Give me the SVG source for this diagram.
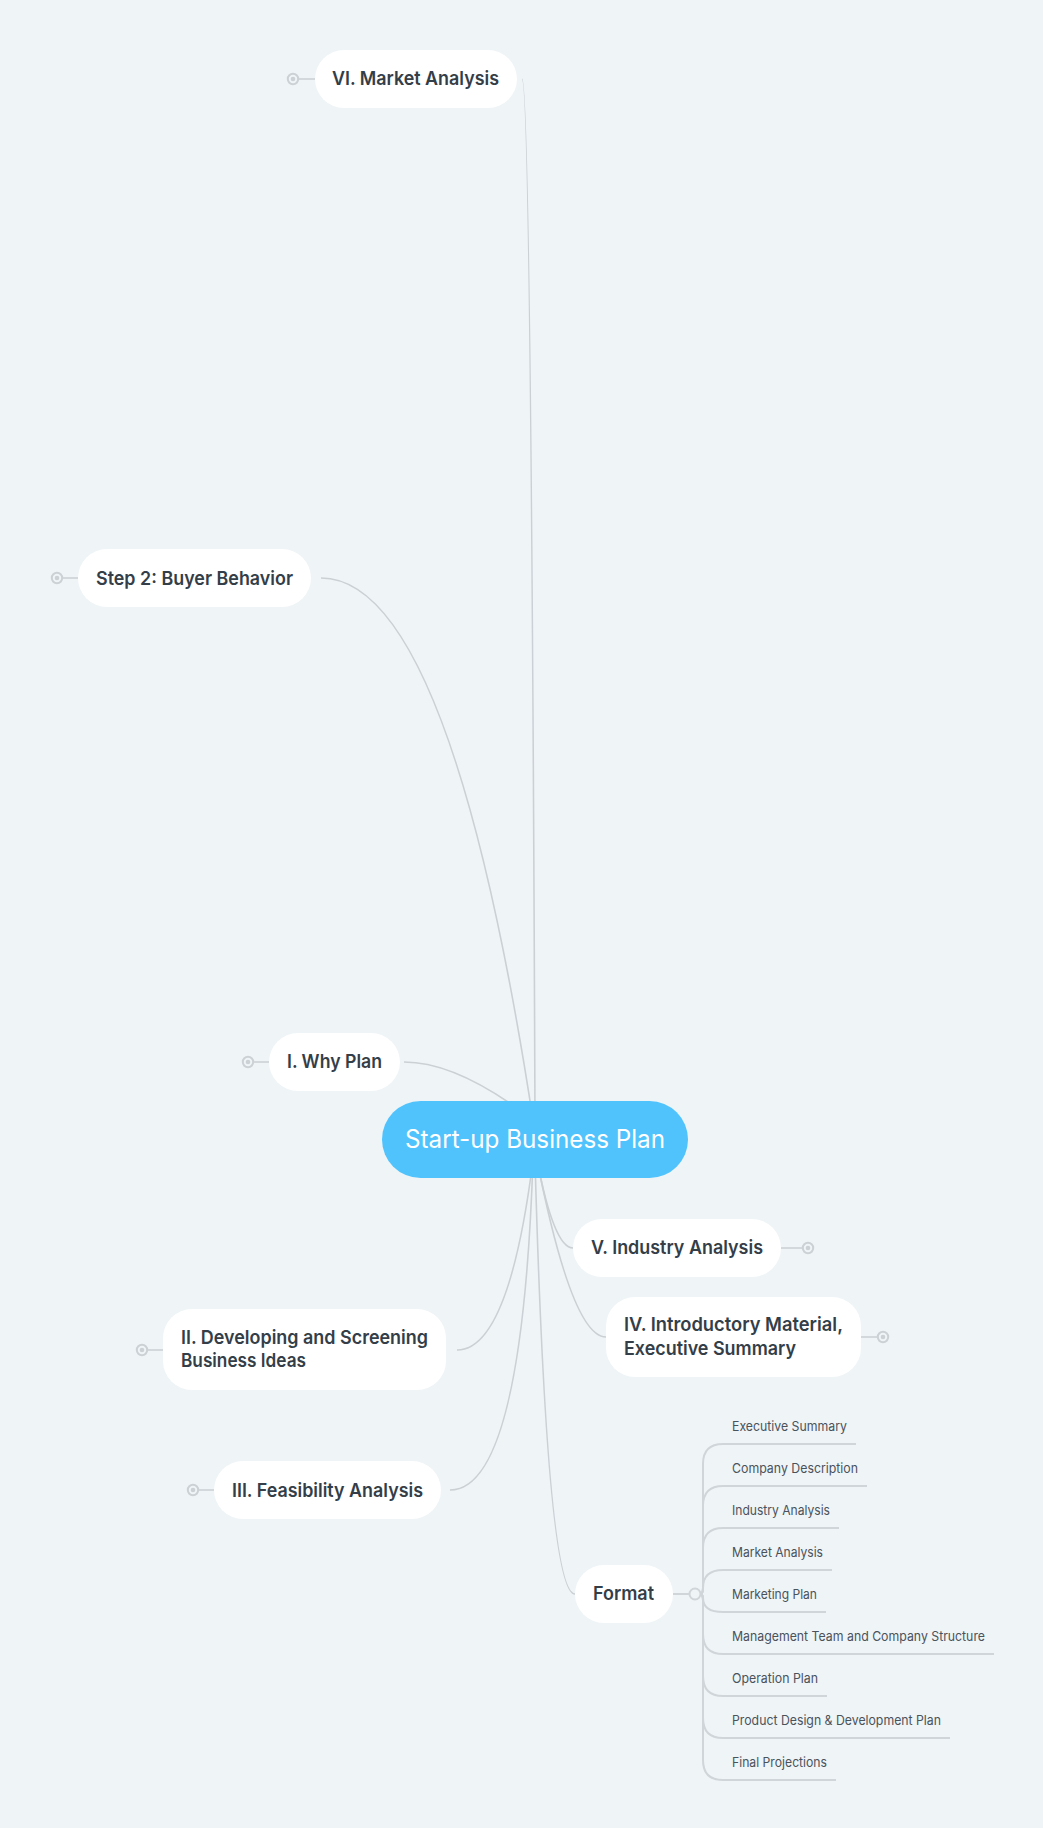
<svg xmlns="http://www.w3.org/2000/svg" width="1043" height="1828" viewBox="0 0 1043 1828">
<style>
.bg{fill:#eff4f7}
.conn{fill:none;stroke:#cbd0d4;stroke-width:1.6}
.sub{fill:none;stroke:#d0d5d9;stroke-width:2}
.node{fill:#ffffff}
.lbl{font-family:Inter,"Liberation Sans",sans-serif;font-weight:600;font-size:19px;fill:#343e48}
.child{font-family:Inter,"Liberation Sans",sans-serif;font-weight:400;font-size:13px;fill:#4a525a}
.main{font-family:Inter,"Liberation Sans",sans-serif;font-weight:400;font-size:25px;fill:#ffffff}
.col{fill:#eff4f7;stroke:#ccd1d5;stroke-width:2}
.dot{fill:#ccd1d5}
.stub{stroke:#ccd1d5;stroke-width:1.6}
</style>
<rect class="bg" x="0" y="0" width="1043" height="1828"/>
<g id="connectors">
  <path class="conn" d="M522 79 Q531 79 535 1120"/>
  <path class="conn" d="M321 578 Q450 578 533 1120"/>
  <path class="conn" d="M404 1062 Q458 1062 533 1120"/>
  <path class="conn" d="M457 1350 Q509 1350 533 1160"/>
  <path class="conn" d="M450 1490 Q522 1490 533 1160"/>
  <path class="conn" d="M575 1594 Q547 1594 535 1160"/>
  <path class="conn" d="M573 1248 Q554 1248 537 1160"/>
  <path class="conn" d="M606 1337 Q572 1337 537 1160"/>
</g>
<g id="central">
  <rect x="382" y="1101" width="306" height="77" rx="38.5" fill="#50c3fd"/>
  <text class="main" x="405" y="1148" textLength="260" lengthAdjust="spacingAndGlyphs">Start-up Business Plan</text>
</g>
<g id="n-vi">
  <line class="stub" x1="299" y1="79" x2="315" y2="79"/>
  <circle class="col" cx="293" cy="79" r="5.2"/><circle class="dot" cx="293" cy="79" r="2.3"/>
  <rect class="node" x="315" y="50" width="202" height="58" rx="29"/>
  <text class="lbl" x="332" y="85" textLength="167" lengthAdjust="spacingAndGlyphs">VI. Market Analysis</text>
</g>
<g id="n-step2">
  <line class="stub" x1="63" y1="578" x2="78" y2="578"/>
  <circle class="col" cx="57" cy="578" r="5.2"/><circle class="dot" cx="57" cy="578" r="2.3"/>
  <rect class="node" x="78" y="549" width="233" height="58" rx="29"/>
  <text class="lbl" x="96" y="585" textLength="197" lengthAdjust="spacingAndGlyphs">Step 2: Buyer Behavior</text>
</g>
<g id="n-i">
  <line class="stub" x1="254" y1="1062" x2="269" y2="1062"/>
  <circle class="col" cx="248" cy="1062" r="5.2"/><circle class="dot" cx="248" cy="1062" r="2.3"/>
  <rect class="node" x="269" y="1033" width="131" height="58" rx="29"/>
  <text class="lbl" x="287" y="1068" textLength="95" lengthAdjust="spacingAndGlyphs">I. Why Plan</text>
</g>
<g id="n-v">
  <line class="stub" x1="781" y1="1248" x2="802" y2="1248"/>
  <circle class="col" cx="808" cy="1248" r="5.2"/><circle class="dot" cx="808" cy="1248" r="2.3"/>
  <rect class="node" x="573" y="1219" width="208" height="58" rx="29"/>
  <text class="lbl" x="591" y="1254" textLength="172" lengthAdjust="spacingAndGlyphs">V. Industry Analysis</text>
</g>
<g id="n-iv">
  <line class="stub" x1="861" y1="1337" x2="877" y2="1337"/>
  <circle class="col" cx="883" cy="1337" r="5.2"/><circle class="dot" cx="883" cy="1337" r="2.3"/>
  <rect class="node" x="606" y="1297" width="255" height="80" rx="29"/>
  <text class="lbl" x="624" y="1331" textLength="219" lengthAdjust="spacingAndGlyphs">IV. Introductory Material,</text>
  <text class="lbl" x="624" y="1355" textLength="172" lengthAdjust="spacingAndGlyphs">Executive Summary</text>
</g>
<g id="n-ii">
  <line class="stub" x1="148" y1="1350" x2="163" y2="1350"/>
  <circle class="col" cx="142" cy="1350" r="5.2"/><circle class="dot" cx="142" cy="1350" r="2.3"/>
  <rect class="node" x="163" y="1309" width="283" height="81" rx="29"/>
  <text class="lbl" x="181" y="1344" textLength="247" lengthAdjust="spacingAndGlyphs">II. Developing and Screening</text>
  <text class="lbl" x="181" y="1367" textLength="125" lengthAdjust="spacingAndGlyphs">Business Ideas</text>
</g>
<g id="n-iii">
  <line class="stub" x1="199" y1="1490" x2="214" y2="1490"/>
  <circle class="col" cx="193" cy="1490" r="5.2"/><circle class="dot" cx="193" cy="1490" r="2.3"/>
  <rect class="node" x="214" y="1461" width="227" height="58" rx="29"/>
  <text class="lbl" x="232" y="1497" textLength="191" lengthAdjust="spacingAndGlyphs">III. Feasibility Analysis</text>
</g>
<g id="n-format">
  <rect class="node" x="575" y="1565" width="98" height="58" rx="29"/>
  <text class="lbl" x="593" y="1600" textLength="61" lengthAdjust="spacingAndGlyphs">Format</text>
</g>
<g id="format-branches">
  <line class="sub" x1="673" y1="1594" x2="689.5" y2="1594"/>
  <path class="sub" d="M700 1594 Q703 1594 703 1588 L703 1464 Q703 1444 723 1444 H856"/>
  <path class="sub" d="M700 1594 Q703 1594 703 1588 L703 1506 Q703 1486 723 1486 H867"/>
  <path class="sub" d="M700 1594 Q703 1594 703 1588 L703 1548 Q703 1528 723 1528 H839"/>
  <path class="sub" d="M700 1594 Q703 1594 703 1588 Q703 1570 723 1570 H832"/>
  <path class="sub" d="M700 1594 Q703 1594 703 1598 Q703 1612 723 1612 H826"/>
  <path class="sub" d="M700 1594 Q703 1594 703 1600 L703 1634 Q703 1654 723 1654 H994"/>
  <path class="sub" d="M700 1594 Q703 1594 703 1600 L703 1676 Q703 1696 723 1696 H827"/>
  <path class="sub" d="M700 1594 Q703 1594 703 1600 L703 1718 Q703 1738 723 1738 H950"/>
  <path class="sub" d="M700 1594 Q703 1594 703 1600 L703 1760 Q703 1780 723 1780 H836"/>
  <circle cx="695" cy="1594" r="5.5" fill="#eff4f7" stroke="#d0d5d9" stroke-width="2"/>
</g>
<g id="c-exec"><text class="child" x="732" y="1431" textLength="115" lengthAdjust="spacingAndGlyphs">Executive Summary</text></g>
<g id="c-company"><text class="child" x="732" y="1473" textLength="126" lengthAdjust="spacingAndGlyphs">Company Description</text></g>
<g id="c-industry"><text class="child" x="732" y="1515" textLength="98" lengthAdjust="spacingAndGlyphs">Industry Analysis</text></g>
<g id="c-market"><text class="child" x="732" y="1557" textLength="91" lengthAdjust="spacingAndGlyphs">Market Analysis</text></g>
<g id="c-marketing"><text class="child" x="732" y="1599" textLength="85" lengthAdjust="spacingAndGlyphs">Marketing Plan</text></g>
<g id="c-mgmt"><text class="child" x="732" y="1641" textLength="253" lengthAdjust="spacingAndGlyphs">Management Team and Company Structure</text></g>
<g id="c-operation"><text class="child" x="732" y="1683" textLength="86" lengthAdjust="spacingAndGlyphs">Operation Plan</text></g>
<g id="c-product"><text class="child" x="732" y="1725" textLength="209" lengthAdjust="spacingAndGlyphs">Product Design &amp; Development Plan</text></g>
<g id="c-final"><text class="child" x="732" y="1767" textLength="95" lengthAdjust="spacingAndGlyphs">Final Projections</text></g>
</svg>
